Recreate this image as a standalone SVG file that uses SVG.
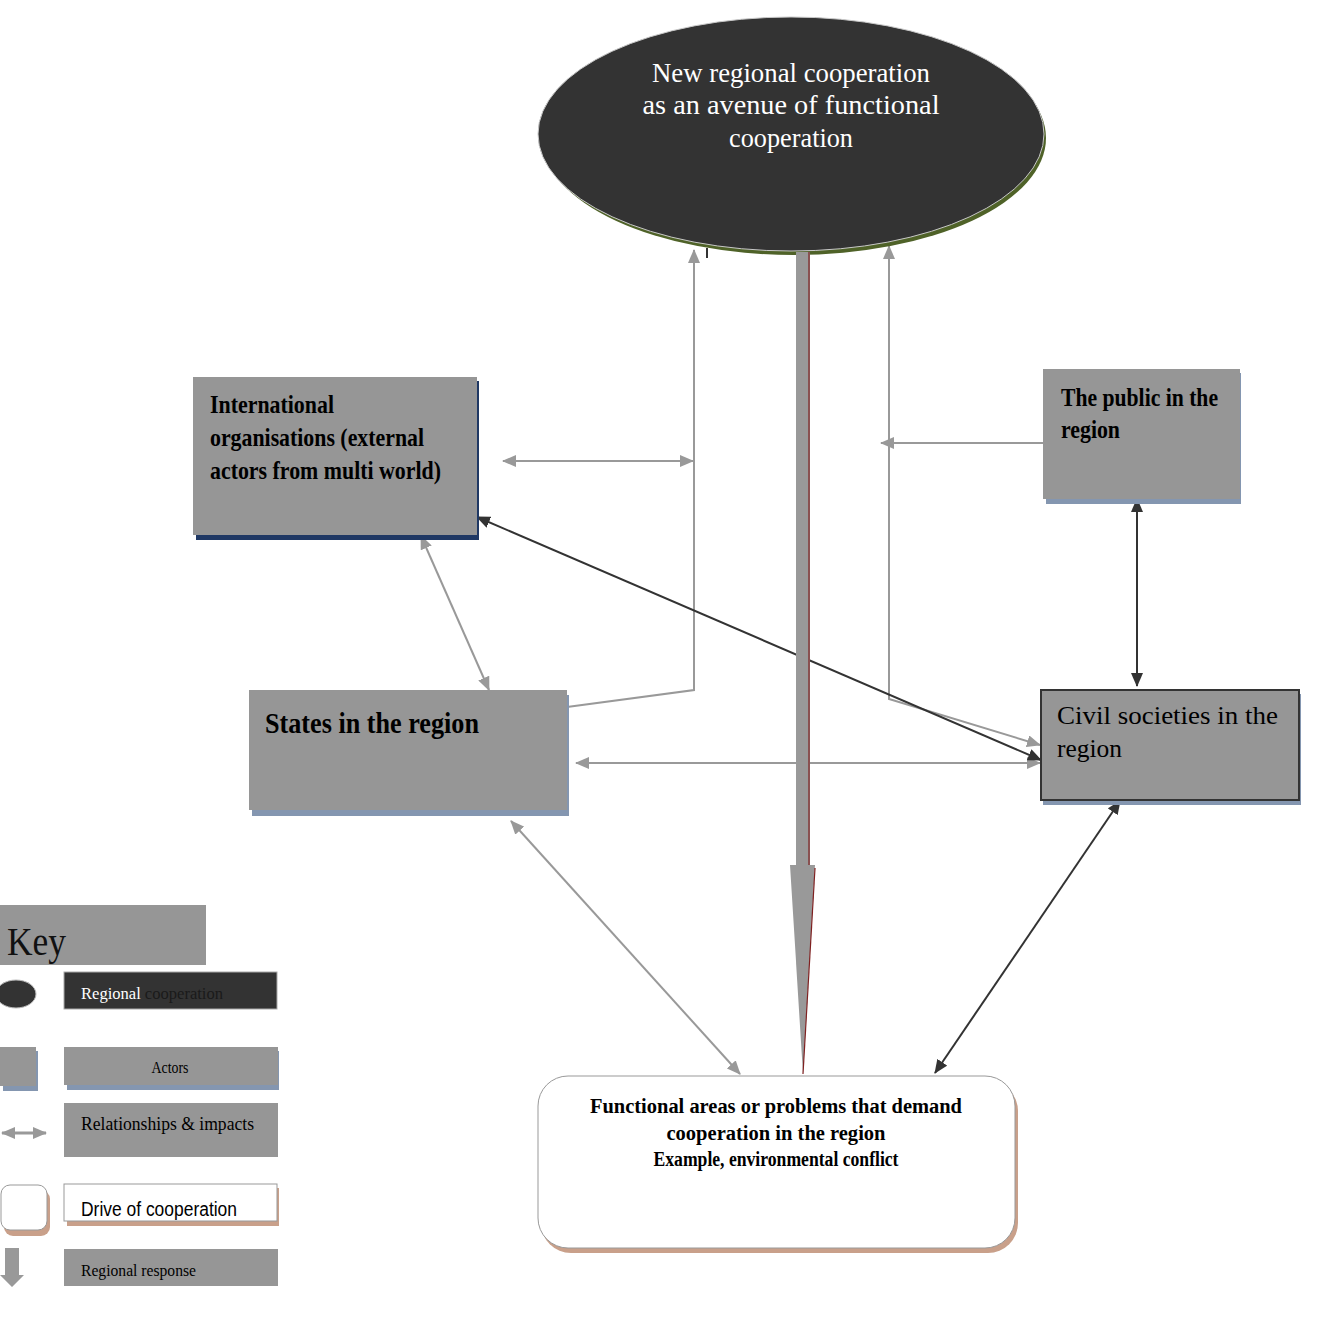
<svg xmlns="http://www.w3.org/2000/svg" width="1322" height="1327" viewBox="0 0 1322 1327">
<defs>
<marker id="ag" viewBox="0 0 14 12" refX="13" refY="6" markerWidth="14" markerHeight="12" markerUnits="userSpaceOnUse" orient="auto-start-reverse"><path d="M0,0 L14,6 L0,12 z" fill="#999999"/></marker>
<marker id="ad" viewBox="0 0 14 12" refX="13" refY="6" markerWidth="14" markerHeight="12" markerUnits="userSpaceOnUse" orient="auto-start-reverse"><path d="M0,0 L14,6 L0,12 z" fill="#333333"/></marker>
<style>
.actor{fill:#969696}
.shb{fill:#8496b0}
.t{font-family:"Liberation Serif","Times New Roman",serif}
.b{font-weight:bold}
.cg{fill:none;stroke:#999999;stroke-width:2}
.cd{fill:none;stroke:#333333;stroke-width:2}
</style>
</defs>
<rect width="1322" height="1327" fill="#ffffff"/>

<g id="connectors">
<polyline class="cg" points="567,707 694,690 694,250" marker-end="url(#ag)"/>
<line class="cg" x1="503" y1="461" x2="693" y2="461" marker-start="url(#ag)" marker-end="url(#ag)"/>
<polyline class="cg" points="889,246 889,699 1040,745" marker-start="url(#ag)" marker-end="url(#ag)"/>
<line class="cg" x1="1043" y1="443" x2="881" y2="443" marker-end="url(#ag)"/>
<line class="cd" x1="1137" y1="499" x2="1137" y2="686" marker-start="url(#ad)" marker-end="url(#ad)"/>
<line class="cg" x1="576" y1="763" x2="1040" y2="763" marker-start="url(#ag)" marker-end="url(#ag)"/>
<line class="cd" x1="477" y1="517" x2="1041" y2="760" marker-start="url(#ad)" marker-end="url(#ad)"/>
<line class="cg" x1="421" y1="536" x2="489" y2="690" marker-start="url(#ag)" marker-end="url(#ag)"/>
<line class="cg" x1="511" y1="821" x2="740" y2="1074" marker-start="url(#ag)" marker-end="url(#ag)"/>
<line class="cd" x1="1120" y1="801" x2="935" y2="1073" marker-start="url(#ad)" marker-end="url(#ad)"/>
<line x1="707" y1="248" x2="707" y2="258" stroke="#333333" stroke-width="2"/>
</g>

<g id="regional-cooperation">
<ellipse cx="794" cy="138" rx="252" ry="117" fill="#4f6228"/>
<ellipse cx="791" cy="134" rx="253" ry="117" fill="#333333" stroke="#c8c8c8" stroke-width="1"/>
<g class="t" fill="#ffffff" font-size="27" text-anchor="middle">
<text x="791" y="82" textLength="278" lengthAdjust="spacingAndGlyphs">New regional cooperation</text>
<text x="791" y="114" textLength="297" lengthAdjust="spacingAndGlyphs">as an avenue of functional</text>
<text x="791" y="147" textLength="124" lengthAdjust="spacingAndGlyphs">cooperation</text>
</g>
</g>

<g id="regional-response">
<rect x="796" y="252" width="14" height="614" fill="#999999"/>
<line x1="809" y1="252" x2="809" y2="866" stroke="#7f2020" stroke-width="1.2"/>
<polygon points="790,865 815,865 803,1074" fill="#999999"/>
<line x1="815" y1="868" x2="803" y2="1074" stroke="#7f2020" stroke-width="1.2"/>
</g>

<g id="international-organisations">
<rect x="196" y="381" width="283" height="159" fill="#1f3864"/>
<rect x="193" y="377" width="284" height="158" class="actor"/>
<g class="t b" font-size="26" fill="#000000">
<text x="210" y="413" textLength="124" lengthAdjust="spacingAndGlyphs">International</text>
<text x="210" y="446" textLength="214" lengthAdjust="spacingAndGlyphs">organisations (external</text>
<text x="210" y="479" textLength="231" lengthAdjust="spacingAndGlyphs">actors from multi world)</text>
</g>
</g>

<g id="public">
<rect x="1046" y="373" width="195" height="131" class="shb"/>
<rect x="1043" y="369" width="197" height="130" class="actor"/>
<g class="t b" font-size="26" fill="#000000">
<text x="1061" y="406" textLength="157" lengthAdjust="spacingAndGlyphs">The public in the</text>
<text x="1061" y="438" textLength="59" lengthAdjust="spacingAndGlyphs">region</text>
</g>
</g>

<g id="states">
<rect x="252" y="695" width="317" height="121" class="shb"/>
<rect x="249" y="690" width="318" height="120" class="actor"/>
<text x="265" y="733" class="t b" font-size="30" textLength="214" lengthAdjust="spacingAndGlyphs">States in the region</text>
</g>

<g id="civil-societies">
<rect x="1043" y="694" width="258" height="111" class="shb"/>
<rect x="1041" y="690" width="258" height="110" class="actor" stroke="#333333" stroke-width="2"/>
<g class="t" font-size="26" fill="#000000">
<text x="1057" y="724" textLength="221" lengthAdjust="spacingAndGlyphs">Civil societies in the</text>
<text x="1057" y="757" textLength="65" lengthAdjust="spacingAndGlyphs">region</text>
</g>
</g>

<g id="functional-areas">
<rect x="541" y="1081" width="477" height="172" rx="30" fill="#c9a08a"/>
<rect x="538" y="1076" width="477" height="172" rx="30" fill="#ffffff" stroke="#999999" stroke-width="1"/>
<g class="t b" font-size="20" fill="#000000" text-anchor="middle">
<text x="776" y="1113" textLength="372" lengthAdjust="spacingAndGlyphs">Functional areas or problems that demand</text>
<text x="776" y="1140" textLength="219" lengthAdjust="spacingAndGlyphs">cooperation in the region</text>
<text x="776" y="1166" textLength="245" lengthAdjust="spacingAndGlyphs">Example, environmental conflict</text>
</g>
</g>

<g id="key">
<rect x="0" y="905" width="206" height="60" fill="#969696"/>
<text x="7" y="955" class="t" font-size="40" fill="#111111" textLength="59" lengthAdjust="spacingAndGlyphs">Key</text>

<ellipse cx="16" cy="994" rx="20" ry="14" fill="#333333" stroke="#bbbbbb" stroke-width="1"/>
<rect x="64" y="972" width="213" height="37" fill="#333333" stroke="#aaaaaa" stroke-width="1"/>
<text x="81" y="999" class="t" font-size="16" textLength="142" lengthAdjust="spacingAndGlyphs"><tspan fill="#ffffff">Regional </tspan><tspan fill="#1a1a1a">cooperation</tspan></text>

<rect x="3" y="1051" width="35" height="40" class="shb"/>
<rect x="0" y="1047" width="36" height="39" class="actor"/>
<rect x="67" y="1051" width="212" height="39" class="shb"/>
<rect x="64" y="1047" width="214" height="38" class="actor"/>
<text x="170" y="1073" class="t" font-size="16" text-anchor="middle" textLength="37" lengthAdjust="spacingAndGlyphs">Actors</text>

<line x1="2" y1="1133" x2="46" y2="1133" stroke="#999999" stroke-width="3" marker-start="url(#ag)" marker-end="url(#ag)"/>
<rect x="64" y="1103" width="214" height="54" class="actor"/>
<text x="81" y="1130" class="t" font-size="18" textLength="173" lengthAdjust="spacingAndGlyphs">Relationships &amp; impacts</text>

<rect x="4" y="1190" width="46" height="46" rx="9" fill="#c9a08a"/>
<rect x="1" y="1185" width="46" height="45" rx="9" fill="#ffffff" stroke="#999999" stroke-width="1"/>
<rect x="67" y="1188" width="212" height="38" fill="#c9a08a"/>
<rect x="64" y="1184" width="213" height="37" fill="#ffffff" stroke="#999999" stroke-width="1"/>
<text x="81" y="1216" font-family="'Liberation Sans',Arial,sans-serif" font-size="20" fill="#000000" textLength="156" lengthAdjust="spacingAndGlyphs">Drive of cooperation</text>

<polygon points="5,1248 19,1248 19,1275 24,1275 12,1287 0,1275 5,1275" fill="#999999"/>
<rect x="64" y="1249" width="214" height="37" class="actor"/>
<text x="81" y="1276" class="t" font-size="16" textLength="115" lengthAdjust="spacingAndGlyphs">Regional response</text>
</g>
</svg>
